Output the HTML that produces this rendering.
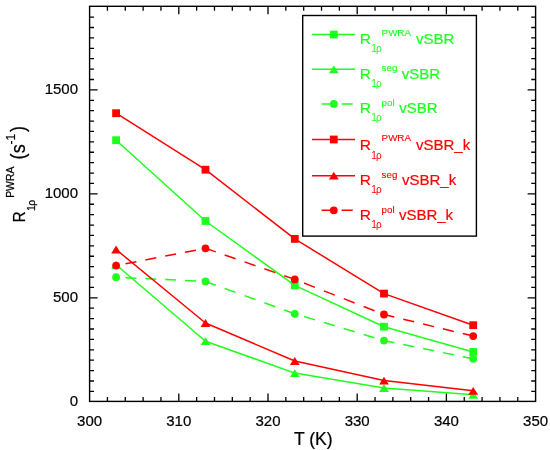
<!DOCTYPE html>
<html><head><meta charset="utf-8"><style>
html,body{margin:0;padding:0;background:#fff;}
svg{display:block;filter:blur(0.25px);font-family:"Liberation Sans",Arial,sans-serif;}
</style></head><body>
<svg width="550" height="450" viewBox="0 0 550 450">
<rect width="550" height="450" fill="#fff"/>
<path d="M107.44 401.40v-4.4M107.44 6.30v4.4M125.28 401.40v-4.4M125.28 6.30v4.4M143.12 401.40v-4.4M143.12 6.30v4.4M160.96 401.40v-4.4M160.96 6.30v4.4M178.80 401.40v-8M178.80 6.30v8M196.64 401.40v-4.4M196.64 6.30v4.4M214.48 401.40v-4.4M214.48 6.30v4.4M232.32 401.40v-4.4M232.32 6.30v4.4M250.16 401.40v-4.4M250.16 6.30v4.4M268.00 401.40v-8M268.00 6.30v8M285.84 401.40v-4.4M285.84 6.30v4.4M303.68 401.40v-4.4M303.68 6.30v4.4M321.52 401.40v-4.4M321.52 6.30v4.4M339.36 401.40v-4.4M339.36 6.30v4.4M357.20 401.40v-8M357.20 6.30v8M375.04 401.40v-4.4M375.04 6.30v4.4M392.88 401.40v-4.4M392.88 6.30v4.4M410.72 401.40v-4.4M410.72 6.30v4.4M428.56 401.40v-4.4M428.56 6.30v4.4M446.40 401.40v-8M446.40 6.30v8M464.24 401.40v-4.4M464.24 6.30v4.4M482.08 401.40v-4.4M482.08 6.30v4.4M499.92 401.40v-4.4M499.92 6.30v4.4M517.76 401.40v-4.4M517.76 6.30v4.4M89.60 391.40h4.4M535.60 391.40h-4.4M89.60 381.01h4.4M535.60 381.01h-4.4M89.60 370.61h4.4M535.60 370.61h-4.4M89.60 360.21h4.4M535.60 360.21h-4.4M89.60 349.81h4.4M535.60 349.81h-4.4M89.60 339.42h4.4M535.60 339.42h-4.4M89.60 329.02h4.4M535.60 329.02h-4.4M89.60 318.62h4.4M535.60 318.62h-4.4M89.60 308.22h4.4M535.60 308.22h-4.4M89.60 297.83h8M535.60 297.83h-8M89.60 287.43h4.4M535.60 287.43h-4.4M89.60 277.03h4.4M535.60 277.03h-4.4M89.60 266.63h4.4M535.60 266.63h-4.4M89.60 256.24h4.4M535.60 256.24h-4.4M89.60 245.84h4.4M535.60 245.84h-4.4M89.60 235.44h4.4M535.60 235.44h-4.4M89.60 225.04h4.4M535.60 225.04h-4.4M89.60 214.65h4.4M535.60 214.65h-4.4M89.60 204.25h4.4M535.60 204.25h-4.4M89.60 193.85h8M535.60 193.85h-8M89.60 183.46h4.4M535.60 183.46h-4.4M89.60 173.06h4.4M535.60 173.06h-4.4M89.60 162.66h4.4M535.60 162.66h-4.4M89.60 152.26h4.4M535.60 152.26h-4.4M89.60 141.87h4.4M535.60 141.87h-4.4M89.60 131.47h4.4M535.60 131.47h-4.4M89.60 121.07h4.4M535.60 121.07h-4.4M89.60 110.67h4.4M535.60 110.67h-4.4M89.60 100.28h4.4M535.60 100.28h-4.4M89.60 89.88h8M535.60 89.88h-8M89.60 79.48h4.4M535.60 79.48h-4.4M89.60 69.08h4.4M535.60 69.08h-4.4M89.60 58.69h4.4M535.60 58.69h-4.4M89.60 48.29h4.4M535.60 48.29h-4.4M89.60 37.89h4.4M535.60 37.89h-4.4M89.60 27.49h4.4M535.60 27.49h-4.4M89.60 17.10h4.4M535.60 17.10h-4.4" stroke="#000" stroke-width="1.3" fill="none"/>
<rect x="89.6" y="6.3" width="446.00" height="395.10" fill="none" stroke="#000" stroke-width="1.4"/>
<polyline points="116.10,140.20 205.50,221.00 294.80,285.40 384.00,326.70 473.20,352.00" fill="none" stroke="#1eff1e" stroke-width="1.5" stroke-linejoin="round"/>
<rect x="112.20" y="136.30" width="7.8" height="7.8" fill="#1eff1e"/>
<rect x="201.60" y="217.10" width="7.8" height="7.8" fill="#1eff1e"/>
<rect x="290.90" y="281.50" width="7.8" height="7.8" fill="#1eff1e"/>
<rect x="380.10" y="322.80" width="7.8" height="7.8" fill="#1eff1e"/>
<rect x="469.30" y="348.10" width="7.8" height="7.8" fill="#1eff1e"/>
<polyline points="116.10,264.80 205.50,341.20 294.80,373.10 384.00,388.00 473.20,394.80" fill="none" stroke="#1eff1e" stroke-width="1.5" stroke-linejoin="round"/>
<path d="M116.10 260.90L121.00 268.70L111.20 268.70Z" fill="#1eff1e"/>
<path d="M205.50 337.30L210.40 345.10L200.60 345.10Z" fill="#1eff1e"/>
<path d="M294.80 369.20L299.70 377.00L289.90 377.00Z" fill="#1eff1e"/>
<path d="M384.00 384.10L388.90 391.90L379.10 391.90Z" fill="#1eff1e"/>
<path d="M473.20 390.90L478.10 398.70L468.30 398.70Z" fill="#1eff1e"/>
<path d="M116.10 277.20L116.56 277.22M125.50 277.65L136.40 278.18M145.34 278.61L156.24 279.13M165.18 279.56L176.08 280.08M185.02 280.51L195.92 281.04M204.86 281.47L205.50 281.50L215.76 285.21M224.70 288.44L235.60 292.39M244.54 295.62L255.44 299.56M264.38 302.80L275.28 306.74M284.22 309.97L294.80 313.80L295.12 313.90M304.06 316.58L314.96 319.86M323.90 322.54L334.80 325.82M343.74 328.50L354.64 331.78M363.58 334.46L374.48 337.74M383.42 340.43L384.00 340.60L394.32 342.71M403.26 344.53L414.16 346.75M423.10 348.58L434.00 350.80M442.94 352.63L453.84 354.85M462.78 356.67L473.20 358.80" fill="none" stroke="#1eff1e" stroke-width="1.5"/>
<circle cx="116.10" cy="277.20" r="3.9" fill="#1eff1e"/>
<circle cx="205.50" cy="281.50" r="3.9" fill="#1eff1e"/>
<circle cx="294.80" cy="313.80" r="3.9" fill="#1eff1e"/>
<circle cx="384.00" cy="340.60" r="3.9" fill="#1eff1e"/>
<circle cx="473.20" cy="358.80" r="3.9" fill="#1eff1e"/>
<polyline points="116.10,113.20 205.50,169.70 294.80,238.90 384.00,293.60 473.20,325.20" fill="none" stroke="#ff0000" stroke-width="1.5" stroke-linejoin="round"/>
<rect x="112.20" y="109.30" width="7.8" height="7.8" fill="#ff0000"/>
<rect x="201.60" y="165.80" width="7.8" height="7.8" fill="#ff0000"/>
<rect x="290.90" y="235.00" width="7.8" height="7.8" fill="#ff0000"/>
<rect x="380.10" y="289.70" width="7.8" height="7.8" fill="#ff0000"/>
<rect x="469.30" y="321.30" width="7.8" height="7.8" fill="#ff0000"/>
<polyline points="116.10,249.50 205.50,323.00 294.80,361.00 384.00,380.60 473.20,390.80" fill="none" stroke="#ff0000" stroke-width="1.5" stroke-linejoin="round"/>
<path d="M116.10 245.60L121.00 253.40L111.20 253.40Z" fill="#ff0000"/>
<path d="M205.50 319.10L210.40 326.90L200.60 326.90Z" fill="#ff0000"/>
<path d="M294.80 357.10L299.70 364.90L289.90 364.90Z" fill="#ff0000"/>
<path d="M384.00 376.70L388.90 384.50L379.10 384.50Z" fill="#ff0000"/>
<path d="M473.20 386.90L478.10 394.70L468.30 394.70Z" fill="#ff0000"/>
<path d="M116.10 265.60L116.56 265.51M125.50 263.78L136.40 261.67M145.34 259.94L156.24 257.83M165.18 256.10L176.08 253.99M185.02 252.26L195.92 250.15M204.86 248.42L205.50 248.30L215.76 251.87M224.70 254.99L235.60 258.78M244.54 261.90L255.44 265.69M264.38 268.81L275.28 272.60M284.22 275.72L294.80 279.40L295.12 279.53M304.06 283.04L314.96 287.33M323.90 290.85L334.80 295.14M343.74 298.66L354.64 302.95M363.58 306.46L374.48 310.75M383.42 314.27L384.00 314.50L394.32 317.00M403.26 319.16L414.16 321.80M423.10 323.97L434.00 326.61M442.94 328.77L453.84 331.41M462.78 333.58L473.20 336.10" fill="none" stroke="#ff0000" stroke-width="1.5"/>
<circle cx="116.10" cy="265.60" r="3.9" fill="#ff0000"/>
<circle cx="205.50" cy="248.30" r="3.9" fill="#ff0000"/>
<circle cx="294.80" cy="279.40" r="3.9" fill="#ff0000"/>
<circle cx="384.00" cy="314.50" r="3.9" fill="#ff0000"/>
<circle cx="473.20" cy="336.10" r="3.9" fill="#ff0000"/>
<g font-size="15" fill="#000" stroke="#000" stroke-width="0.2"><text x="89.60" y="426" text-anchor="middle">300</text><text x="178.80" y="426" text-anchor="middle">310</text><text x="268.00" y="426" text-anchor="middle">320</text><text x="357.20" y="426" text-anchor="middle">330</text><text x="446.40" y="426" text-anchor="middle">340</text><text x="535.60" y="426" text-anchor="middle">350</text><text x="78" y="406.00" text-anchor="end">0</text><text x="78" y="302.03" text-anchor="end">500</text><text x="78" y="198.05" text-anchor="end">1000</text><text x="78" y="94.08" text-anchor="end">1500</text></g>
<text x="313.3" y="444.6" font-size="17.6" text-anchor="middle" stroke="#000" stroke-width="0.2">T (K)</text>
<g transform="translate(24.9,222.5) rotate(-90)" stroke="#000" stroke-width="0.2"><g transform="scale(1,1.1)"><text x="0" y="0" font-size="15.5">R</text></g><text x="11.5" y="10.3" font-size="10.5">1<tspan dx="-0.6">ρ</tspan></text><text x="24.7" y="-10.6" font-size="10.4" stroke="#000" stroke-width="0.25">PWRA</text><g transform="translate(63,0) scale(1,1.12)"><text x="0" y="0" font-size="18">(</text></g><g transform="translate(69.3,0) scale(1,1.12)"><text x="0" y="0" font-size="18">s</text></g><text x="78" y="-10" font-size="12">-1</text><g transform="translate(90.5,0) scale(1,1.12)"><text x="0" y="0" font-size="18">)</text></g></g>
<rect x="302.7" y="15.5" width="173.70" height="220.60" fill="#fff" stroke="#000" stroke-width="1.4"/>
<line x1="312" y1="34.55" x2="355" y2="34.55" stroke="#1eff1e" stroke-width="1.5"/>
<rect x="329.90" y="30.65" width="7.8" height="7.8" fill="#1eff1e"/>
<g fill="#1eff1e" stroke="#1eff1e" stroke-width="0.2"><text x="359.8" y="43.60" font-size="15.5">R</text><text x="371.2" y="52.00" font-size="10" stroke-width="0">1<tspan dx="-0.7">ρ</tspan></text><text x="381.6" y="36.20" font-size="9.8" stroke="#1eff1e" stroke-width="0.12">PWRA</text><text x="416.0" y="43.60" font-size="15">vSBR</text></g>
<line x1="312" y1="69.30" x2="355" y2="69.30" stroke="#1eff1e" stroke-width="1.5"/>
<path d="M333.80 65.40L338.70 73.20L328.90 73.20Z" fill="#1eff1e"/>
<g fill="#1eff1e" stroke="#1eff1e" stroke-width="0.2"><text x="359.8" y="78.50" font-size="15.5">R</text><text x="371.2" y="86.90" font-size="10" stroke-width="0">1<tspan dx="-0.7">ρ</tspan></text><text x="381.6" y="71.10" font-size="9.8" stroke="#1eff1e" stroke-width="0.12">seg</text><text x="401.7" y="78.50" font-size="15">vSBR</text></g>
<path d="M321.6 103.90H332.5M341.6 103.90H352.7" stroke="#1eff1e" stroke-width="1.5"/>
<circle cx="333.80" cy="103.90" r="3.9" fill="#1eff1e"/>
<g fill="#1eff1e" stroke="#1eff1e" stroke-width="0.2"><text x="359.8" y="112.90" font-size="15.5">R</text><text x="371.2" y="121.30" font-size="10" stroke-width="0">1<tspan dx="-0.7">ρ</tspan></text><text x="381.6" y="105.50" font-size="9.8" stroke="#1eff1e" stroke-width="0.12">pol</text><text x="399.3" y="112.90" font-size="15">vSBR</text></g>
<line x1="312" y1="139.50" x2="355" y2="139.50" stroke="#ff0000" stroke-width="1.5"/>
<rect x="329.90" y="135.60" width="7.8" height="7.8" fill="#ff0000"/>
<g fill="#ff0000" stroke="#ff0000" stroke-width="0.2"><text x="359.8" y="150.10" font-size="15.5">R</text><text x="371.2" y="158.50" font-size="10" stroke-width="0">1<tspan dx="-0.7">ρ</tspan></text><text x="381.6" y="140.70" font-size="9.8" stroke="#ff0000" stroke-width="0.12">PWRA</text><text x="416.0" y="150.10" font-size="15">vSBR_k</text></g>
<line x1="312" y1="175.70" x2="355" y2="175.70" stroke="#ff0000" stroke-width="1.5"/>
<path d="M333.80 171.80L338.70 179.60L328.90 179.60Z" fill="#ff0000"/>
<g fill="#ff0000" stroke="#ff0000" stroke-width="0.2"><text x="359.8" y="184.90" font-size="15.5">R</text><text x="371.2" y="193.30" font-size="10" stroke-width="0">1<tspan dx="-0.7">ρ</tspan></text><text x="381.6" y="177.50" font-size="9.8" stroke="#ff0000" stroke-width="0.12">seg</text><text x="402.0" y="184.90" font-size="15">vSBR_k</text></g>
<path d="M321.6 210.35H332.5M341.6 210.35H352.7" stroke="#ff0000" stroke-width="1.5"/>
<circle cx="333.80" cy="210.35" r="3.9" fill="#ff0000"/>
<g fill="#ff0000" stroke="#ff0000" stroke-width="0.2"><text x="359.8" y="219.90" font-size="15.5">R</text><text x="371.2" y="228.30" font-size="10" stroke-width="0">1<tspan dx="-0.7">ρ</tspan></text><text x="381.6" y="212.50" font-size="9.8" stroke="#ff0000" stroke-width="0.12">pol</text><text x="398.9" y="219.90" font-size="15">vSBR_k</text></g>
</svg>
</body></html>
